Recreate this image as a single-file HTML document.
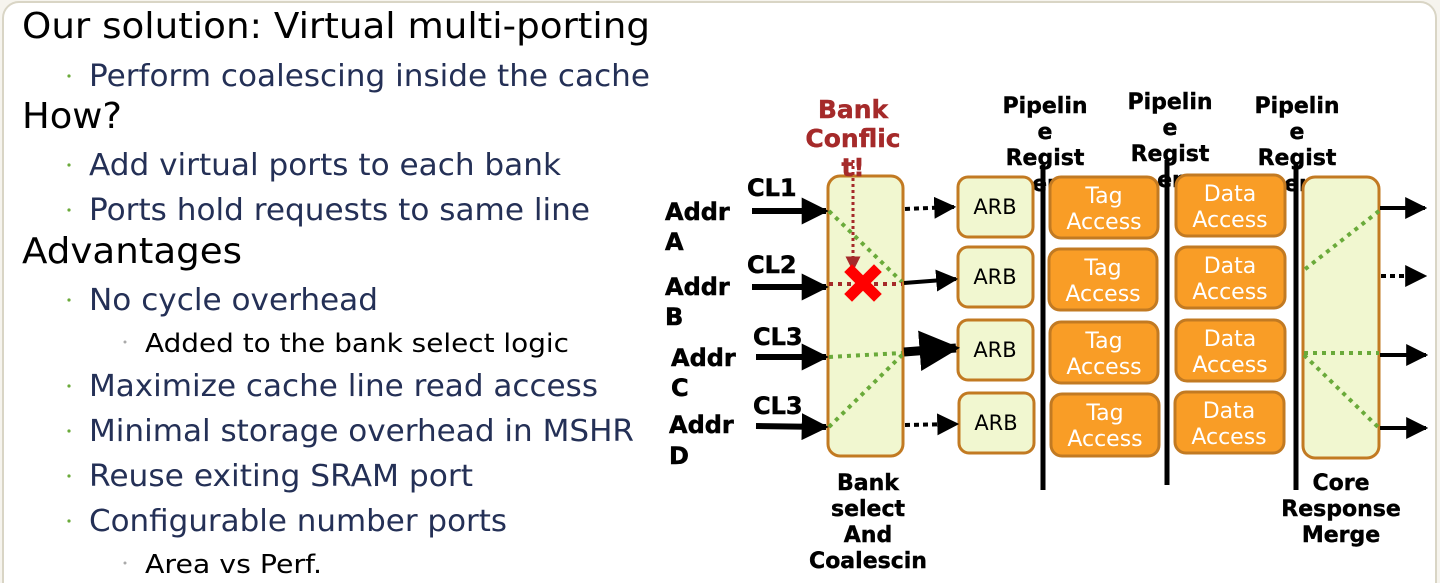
<!DOCTYPE html>
<html><head><meta charset="utf-8"><style>
html,body{margin:0;padding:0;background:#fff;}
svg{display:block;}
</style></head><body>
<svg width="1440" height="583" viewBox="0 0 1440 583" xmlns="http://www.w3.org/2000/svg" font-family="'DejaVu Sans','Liberation Sans',sans-serif">
<defs>
<marker id="ah" viewBox="0 0 10 10" refX="9" refY="5" markerWidth="4.5" markerHeight="4.5" orient="auto" markerUnits="strokeWidth"><path d="M0,0 L10,5 L0,10 z" fill="#000"/></marker>
<marker id="ahs" viewBox="0 0 10 10" refX="9" refY="5" markerWidth="5.5" markerHeight="5.5" orient="auto" markerUnits="strokeWidth"><path d="M0,0 L10,5 L0,10 z" fill="#000"/></marker>
<marker id="ahr" viewBox="0 0 10 10" refX="9" refY="5" markerWidth="5" markerHeight="5" orient="auto" markerUnits="strokeWidth"><path d="M0,0 L10,5 L0,10 z" fill="#a52a2a"/></marker>
</defs>
<rect x="0" y="0" width="1440" height="583" fill="#f6f4ee"/>
<rect x="3" y="2" width="1433" height="600" rx="16" fill="#fff" stroke="#d9d5c5" stroke-width="2"/>

<g>
<text x="22" y="38" font-size="36" fill="#000" textLength="628" lengthAdjust="spacingAndGlyphs">Our solution: Virtual multi-porting</text>
<text x="22" y="128" font-size="36" fill="#000" textLength="100" lengthAdjust="spacingAndGlyphs">How?</text>
<text x="22" y="263" font-size="36" fill="#000" textLength="220" lengthAdjust="spacingAndGlyphs">Advantages</text>
<g fill="#6aaa3a">
<circle cx="69" cy="76" r="1.6"/><circle cx="69" cy="165" r="1.6"/><circle cx="69" cy="210" r="1.6"/>
<circle cx="69" cy="300" r="1.6"/><circle cx="69" cy="386" r="1.6"/><circle cx="69" cy="431" r="1.6"/>
<circle cx="69" cy="476" r="1.6"/><circle cx="69" cy="521" r="1.6"/>
</g>
<g fill="#aaa"><circle cx="125" cy="342" r="1.5"/><circle cx="125" cy="563" r="1.5"/></g>
<g font-size="30" fill="#243056">
<text x="89" y="86" textLength="561" lengthAdjust="spacingAndGlyphs">Perform coalescing inside the cache</text>
<text x="89" y="175" textLength="472" lengthAdjust="spacingAndGlyphs">Add virtual ports to each bank</text>
<text x="89" y="220" textLength="501" lengthAdjust="spacingAndGlyphs">Ports hold requests to same line</text>
<text x="89" y="310" textLength="289" lengthAdjust="spacingAndGlyphs">No cycle overhead</text>
<text x="89" y="396" textLength="509" lengthAdjust="spacingAndGlyphs">Maximize cache line read access</text>
<text x="89" y="441" textLength="545" lengthAdjust="spacingAndGlyphs">Minimal storage overhead in MSHR</text>
<text x="89" y="486" textLength="384" lengthAdjust="spacingAndGlyphs">Reuse exiting SRAM port</text>
<text x="89" y="531" textLength="418" lengthAdjust="spacingAndGlyphs">Configurable number ports</text>
</g>
<g font-size="26" fill="#000">
<text x="145" y="352" textLength="424" lengthAdjust="spacingAndGlyphs">Added to the bank select logic</text>
<text x="145" y="573" textLength="177" lengthAdjust="spacingAndGlyphs">Area vs Perf.</text>
</g>
</g>

<g font-size="22" font-weight="bold" fill="#000" text-anchor="middle" stroke="#000" stroke-width="0.4">
<text x="1045" y="113">Pipelin</text><text x="1045" y="139">e</text><text x="1045" y="165">Regist</text><text x="1045" y="191">er</text>
<text x="1170" y="109">Pipelin</text><text x="1170" y="135">e</text><text x="1170" y="161">Regist</text><text x="1170" y="187">er</text>
<text x="1297" y="113">Pipelin</text><text x="1297" y="139">e</text><text x="1297" y="165">Regist</text><text x="1297" y="191">er</text>
</g>

<g stroke="#000" stroke-width="5">
<line x1="1043" y1="165" x2="1043" y2="490"/>
<line x1="1167" y1="160" x2="1167" y2="485"/>
<line x1="1296" y1="162" x2="1296" y2="490"/>
</g>

<rect x="828" y="176" width="75" height="280" rx="12" fill="#f1f7d0" stroke="#c27a22" stroke-width="3"/>
<rect x="1303" y="177" width="76" height="281" rx="12" fill="#f1f7d0" stroke="#c27a22" stroke-width="3"/>

<g fill="#f1f7d0" stroke="#c27a22" stroke-width="3">
<rect x="958" y="177" width="75" height="60" rx="10"/>
<rect x="958" y="247" width="75" height="60" rx="10"/>
<rect x="958" y="320" width="75" height="60" rx="10"/>
<rect x="959" y="393" width="75" height="60" rx="10"/>
</g>
<g font-size="21" fill="#000" text-anchor="middle">
<text x="995" y="214">ARB</text><text x="995" y="284">ARB</text><text x="995" y="357">ARB</text><text x="996" y="430">ARB</text>
</g>

<g fill="#f99d26" stroke="#c27a22" stroke-width="3">
<rect x="1050" y="177" width="108" height="61" rx="11"/>
<rect x="1049" y="249" width="108" height="61" rx="11"/>
<rect x="1050" y="322" width="108" height="61" rx="11"/>
<rect x="1051" y="394" width="108" height="62" rx="11"/>
<rect x="1176" y="175" width="109" height="61" rx="11"/>
<rect x="1176" y="247" width="109" height="61" rx="11"/>
<rect x="1176" y="320" width="109" height="61" rx="11"/>
<rect x="1175" y="392" width="109" height="61" rx="11"/>
</g>
<g font-size="22" fill="#fff" text-anchor="middle">
<text x="1104" y="203">Tag</text><text x="1104" y="229">Access</text>
<text x="1103" y="275">Tag</text><text x="1103" y="301">Access</text>
<text x="1104" y="348">Tag</text><text x="1104" y="374">Access</text>
<text x="1105" y="420">Tag</text><text x="1105" y="446">Access</text>
<text x="1230" y="201">Data</text><text x="1230" y="227">Access</text>
<text x="1230" y="273">Data</text><text x="1230" y="299">Access</text>
<text x="1230" y="346">Data</text><text x="1230" y="372">Access</text>
<text x="1229" y="418">Data</text><text x="1229" y="444">Access</text>
</g>

<g stroke="#000" stroke-width="6">
<line x1="752" y1="211" x2="826" y2="211" marker-end="url(#ah)"/>
<line x1="752" y1="287" x2="826" y2="287" marker-end="url(#ah)"/>
<line x1="756" y1="357" x2="826" y2="357" marker-end="url(#ah)"/>
<line x1="756" y1="426" x2="826" y2="427" marker-end="url(#ah)"/>
</g>

<g stroke="#6aaa3a" stroke-width="4" stroke-dasharray="4 5" fill="none">
<line x1="829" y1="211" x2="902" y2="282"/>
<line x1="829" y1="357" x2="902" y2="353"/>
<line x1="829" y1="427" x2="902" y2="355"/>
<line x1="1379" y1="211" x2="1304" y2="270"/>
<line x1="1304" y1="353" x2="1379" y2="353"/>
<line x1="1304" y1="355" x2="1379" y2="428"/>
</g>
<g stroke="#a52a2a" stroke-width="4" stroke-dasharray="4 5" fill="none">
<line x1="829" y1="284" x2="902" y2="284"/>
</g>
<line x1="853" y1="160" x2="853" y2="270" stroke="#a52a2a" stroke-width="3" stroke-dasharray="3 3" marker-end="url(#ahr)"/>
<g stroke="#ff0000" stroke-width="11" stroke-linecap="square">
<line x1="852" y1="272" x2="874" y2="294"/>
<line x1="874" y1="272" x2="852" y2="294"/>
</g>

<line x1="905" y1="209" x2="954" y2="207" stroke="#000" stroke-width="4" stroke-dasharray="5 4" marker-end="url(#ahs)"/>
<line x1="904" y1="283" x2="956" y2="279" stroke="#000" stroke-width="4" marker-end="url(#ahs)"/>
<line x1="904" y1="352" x2="956" y2="348" stroke="#000" stroke-width="9" marker-end="url(#ah)"/>
<line x1="905" y1="425" x2="957" y2="424" stroke="#000" stroke-width="4" stroke-dasharray="5 4" marker-end="url(#ahs)"/>

<line x1="1380" y1="208" x2="1425" y2="208" stroke="#000" stroke-width="4" marker-end="url(#ahs)"/>
<line x1="1381" y1="276" x2="1425" y2="276" stroke="#000" stroke-width="4" stroke-dasharray="5 4" marker-end="url(#ahs)"/>
<line x1="1380" y1="355" x2="1426" y2="355" stroke="#000" stroke-width="4" marker-end="url(#ahs)"/>
<line x1="1380" y1="428" x2="1426" y2="428" stroke="#000" stroke-width="4" marker-end="url(#ahs)"/>

<g font-size="24" font-weight="bold" fill="#000" stroke="#000" stroke-width="0.5">
<text x="665" y="220">Addr</text><text x="665" y="250">A</text>
<text x="665" y="295">Addr</text><text x="665" y="325">B</text>
<text x="671" y="366">Addr</text><text x="671" y="396">C</text>
<text x="669" y="433">Addr</text><text x="669" y="464">D</text>
<text x="747" y="196">CL1</text><text x="747" y="273">CL2</text>
<text x="753" y="345">CL3</text><text x="753" y="414">CL3</text>
</g>

<g font-size="25" font-weight="bold" fill="#a52a2a" text-anchor="middle" stroke="#a52a2a" stroke-width="0.4">
<text x="853" y="118">Bank</text><text x="853" y="147">Conflic</text><text x="853" y="176">t!</text>
</g>

<g font-size="22" font-weight="bold" fill="#000" text-anchor="middle" stroke="#000" stroke-width="0.4">
<text x="868" y="490">Bank</text><text x="868" y="516">select</text><text x="868" y="542">And</text><text x="868" y="568">Coalescin</text>
<text x="1341" y="490">Core</text><text x="1341" y="516">Response</text><text x="1341" y="542">Merge</text>
</g>
</svg>
</body></html>
